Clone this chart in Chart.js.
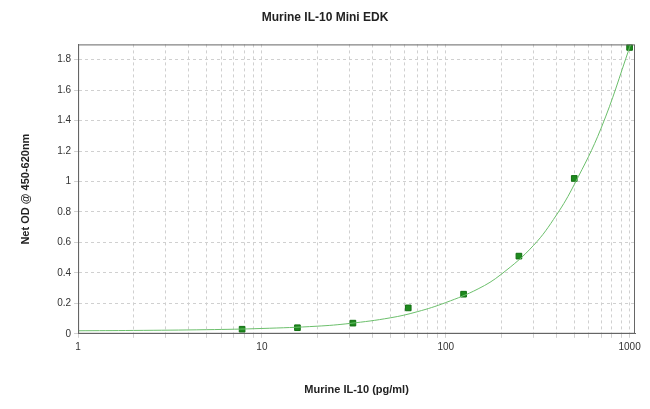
<!DOCTYPE html>
<html><head><script src="https://cdn.jsdelivr.net/npm/chart.js"></script>
<style>body{margin:0;background:#fff}</style></head>
<body><div style="width:650px;height:409px"><canvas id="c"></canvas></div>
<script>
const concentrations=[7.8,15.6,31.25,62.5,125,250,500,1000];
const odValues=[0.03,0.04,0.07,0.17,0.26,0.51,1.02,1.88];
const curveX=[1,2,5,10,20,30,50,70,100,150,200,300,400,500,700,1000,1040];
const curveY=[0.02,0.022,0.027,0.035,0.05,0.068,0.105,0.145,0.205,0.295,0.39,0.58,0.78,0.98,1.35,1.88,1.95];
const yTicks=[0,0.2,0.4,0.6,0.8,1,1.2,1.4,1.6,1.8];
const frame={id:'frame',afterDraw(c){const a=c.chartArea,x=c.ctx;x.save();x.strokeStyle='#666';x.lineWidth=1;x.strokeRect(a.left+0.5,a.top+0.5,a.right-a.left-1,a.bottom-a.top-1);x.restore();}};
new Chart(document.getElementById('c'),{
type:'scatter',
data:{datasets:[
{type:'line',data:curveX.map((x,i)=>({x,y:curveY[i]})),borderColor:'#6cbf6c',borderWidth:1,pointRadius:0,tension:0.4,fill:false},
{data:concentrations.map((x,i)=>({x,y:odValues[i]})),backgroundColor:'#1e8a1e',borderColor:'#137013',pointStyle:'rect',pointRadius:4}
]},
options:{responsive:true,maintainAspectRatio:false,animation:false,
layout:{padding:{left:15,right:15,top:2,bottom:8}},
plugins:{legend:{display:false},tooltip:{enabled:false},
title:{display:true,text:'Murine IL-10 Mini EDK',font:{family:'Arial, Liberation Sans',size:12,weight:'bold'},color:'#222',padding:{top:8,bottom:20}}},
scales:{
x:{type:'logarithmic',min:1,max:1070,
afterBuildTicks:s=>{const t=[];for(let d=1;d<=1000;d*=10)for(let k=1;k<10;k++){const v=d*k;if(v<=1070)t.push({value:v});}s.ticks=t;},
ticks:{autoSkip:false,maxRotation:0,font:{family:'Arial, Liberation Sans',size:10},color:'#333',callback:v=>[1,10,100,1000].includes(v)?String(v):''},
grid:{color:'#d0d0d0',tickLength:4},border:{color:'#666',dash:[3,3]},
title:{display:true,text:'Murine IL-10 (pg/ml)',font:{family:'Arial, Liberation Sans',size:11,weight:'bold'},color:'#222',padding:{top:28}}},
y:{min:0,max:1.9,afterBuildTicks:s=>{s.ticks=yTicks.map(v=>({value:v}));},
ticks:{font:{family:'Arial, Liberation Sans',size:10},color:'#333',callback:v=>String(Math.round(v*10)/10)},
grid:{color:'#d0d0d0',tickLength:4},border:{color:'#666',dash:[3,3]},
title:{display:true,text:'Net OD @ 450-620nm',font:{family:'Arial, Liberation Sans',size:11,weight:'bold'},color:'#222',padding:{bottom:22}}}
}},plugins:[frame]});
</script></body></html>
